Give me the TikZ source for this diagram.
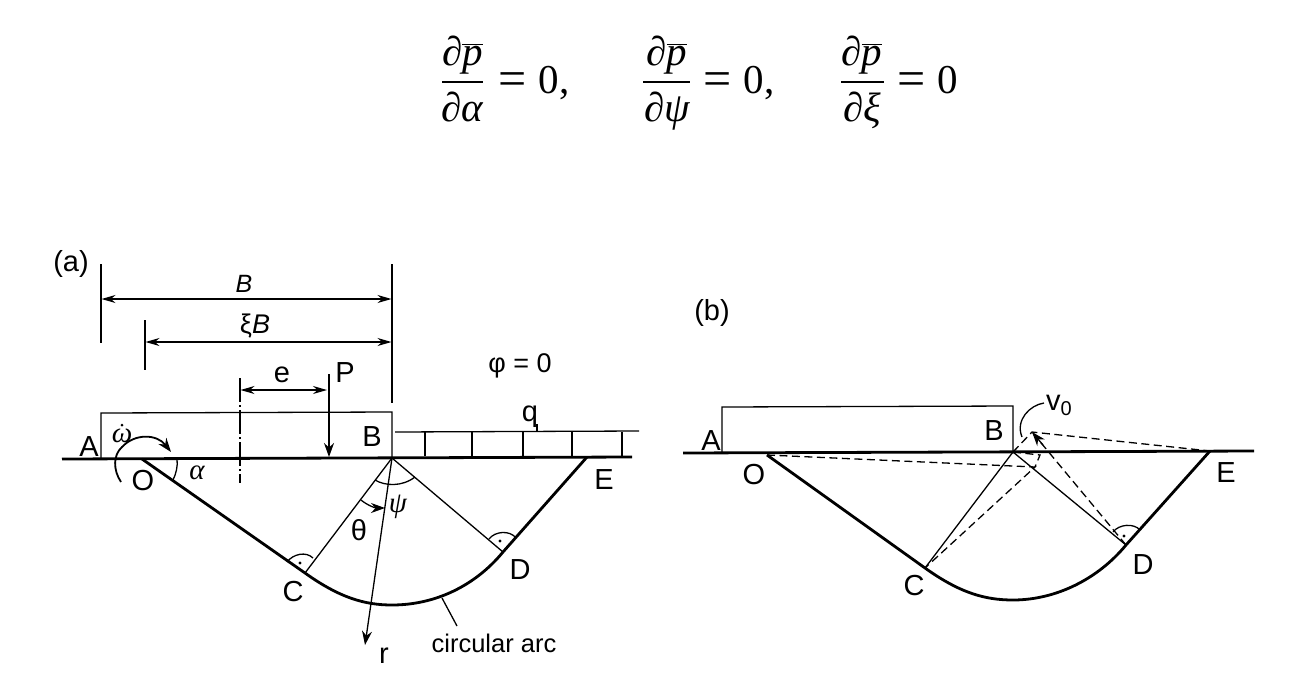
\documentclass[tikz,border=0pt]{standalone}
\usepackage{fontspec}
\setmainfont{Liberation Sans}
\newfontfamily\eqfont{Liberation Serif}
\usetikzlibrary{arrows.meta}
\tikzset{
  thin line/.style={line width=1.3pt},
  thick line/.style={line width=2.8pt},
  lab/.style={inner sep=0pt,font=\fontsize{29}{32}\selectfont},
  eqn/.style={inner sep=0pt,anchor=base,font=\fontsize{41}{44}\selectfont\eqfont\itshape},
  eqv/.style={inner sep=0pt,anchor=base west,font=\fontsize{41}{44}\selectfont\eqfont},
  serif/.style={lab,font=\fontsize{29}{32}\selectfont\eqfont\itshape},
  arr/.style={-{Stealth[length=14pt,width=10pt]}},
  dim/.style={{Stealth[length=14pt,width=8pt]}-{Stealth[length=14pt,width=8pt]},thin line},
  dsh/.style={line width=1.3pt,dash pattern=on 8pt off 4.5pt},
  barline/.style={line width=1.5pt},
}
\newcommand{\ptop}{∂$\overline{\hbox{\eqfont\itshape p}}$}
\newcommand{\eqsign}{{\fontsize{50}{50}\selectfont\raisebox{-2.5pt}{=}}}
\begin{document}
\begin{tikzpicture}[x=1pt,y=-1pt]
\useasboundingbox (0,0) rectangle (1309,678);
% equations
\node[eqn] (n1) at (462.5,65) {\ptop};
\node[eqn] (d1) at (462.5,121) {∂α};
\draw[barline] (442,82) -- (483,82);
\node[eqv] (v1) at (498,93) {\eqsign\hspace{.3em}0,};
\node[eqn] (n2) at (667,65) {\ptop};
\node[eqn] (d2) at (667,121) {∂ψ};
\draw[barline] (643,82) -- (690,82);
\node[eqv] (v2) at (703,93) {\eqsign\hspace{.3em}0,};
\node[eqn] (n3) at (862,65) {\ptop};
\node[eqn] (d3) at (862,121) {∂ξ};
\draw[barline] (841,82) -- (884,82);
\node[eqv] (v3) at (897,93) {\eqsign\hspace{.3em}0};
% (a) geometry
\coordinate (A) at (101,459);
\coordinate (O) at (142,459);
\coordinate (B) at (392,458);
\coordinate (C) at (305,573);
\coordinate (D) at (503,552);
\coordinate (E) at (587,457);
\draw[thick line] (62,459) -- (632,457);
\draw[thin line] (A) -- (101,413) -- (392,412) -- (B);
\draw[thick line] (O) -- (C) .. controls (340,598) and (365,605) .. (392,605) .. controls (435,605) and (475,586) .. (D) -- (E);
\draw[thin line] (B) -- (C);
\draw[thin line] (B) -- (D);
\coordinate (rend) at (365,645);
\draw[thin line,arr] (B) -- (rend);
% surcharge
\draw[thin line] (395,432) -- (639,431);
\foreach \x in {425,472,523,572,622} \draw[thin line] (\x,432) -- (\x,456);
\draw[thin line] (537,431) -- (537,424);
% dimensions
\draw[thin line] (101,264) -- (101,343);
\draw[thin line] (392,264) -- (392,403);
\draw[thin line] (145,320) -- (145,370);
\draw[dim] (101.5,299) -- (391.5,299);
\draw[dim] (145.5,342) -- (391.5,342);
\draw[dim] (240.5,390) -- (327,390);
\draw[thin line,dash pattern=on 24pt off 3pt on 2pt off 3pt] (240,378) -- (240,483);
\draw[line width=1.6pt,arr] (329,374) -- (329,457);
% arcs
\draw[line width=1.8pt,arr] (121,482) .. controls (113,470) and (113,455) .. (122,447) .. controls (135,433) and (157,434) .. (171,452);
\draw[thin line] (177,459) .. controls (178,466) and (176,474) .. (173,480);
\draw[thin line] (375,480) .. controls (385,486) and (402,487) .. (415,477);
\draw[thin line,arr] (361,500) .. controls (367,505) and (375,508) .. (385,508);
\draw[thin line] (287,562) .. controls (293,554) and (306,551) .. (313,558);
\fill (300,563) circle (1.6);
\draw[thin line] (489,539) .. controls (495,531) and (510,530) .. (516,538);
\fill (500,541) circle (1.6);
\draw[thin line] (442,598) -- (457,626);
% (a) labels
\node[lab] (la) at (71,264) {(a)};
\node[lab] (lA) at (89,447) {A};
\node[lab] (lO) at (143,481) {O};
\node[lab] (lB) at (372,437) {B};
\node[lab] (lE) at (604,480) {E};
\node[lab] (lC) at (293,592) {C};
\node[lab] (lD) at (520,570) {D};
\node[lab] (lP) at (345,373) {P};
\node[lab] (le) at (282,375) {e};
\node[lab] (lq) at (530,417) {q};
\node[lab] (lr) at (384,656) {r};
\node[lab,font=\fontsize{25}{28}\selectfont\itshape] (lBd) at (244,284) {B};
\node[lab,font=\fontsize{27}{30}\selectfont] (lxi) at (255,326) {ξ\textit{B}};
\node[serif] (lom) at (122,436) {ω};
\fill (122,425) circle (1.5);
\node[serif] (lal) at (197,473) {α};
\node[serif] (lps) at (398,507) {ψ};
\node[lab] (lth) at (359,530) {θ};
\node[lab,font=\fontsize{27}{30}\selectfont] (lphi) at (520,366) {φ = 0};
\node[lab,font=\fontsize{25.5}{28}\selectfont] (lca) at (494,643) {circular arc};
% (b) geometry
\coordinate (bA) at (722,453);
\coordinate (bO) at (767,455);
\coordinate (bB) at (1013,452);
\coordinate (bC) at (925,568);
\coordinate (bD) at (1126,545);
\coordinate (bE) at (1210,451);
\coordinate (bP) at (1035,467);
\coordinate (bQ) at (1032,432);
\draw[thick line] (683,453) -- (1254,451);
\draw[thin line] (bA) -- (722,407) -- (1013,406) -- (bB);
\draw[thick line] (bO) -- (bC) .. controls (960,593) and (985,600) .. (1013,600) .. controls (1056,600) and (1098,579) .. (bD) -- (bE);
\draw[thin line] (bB) -- (bC);
\draw[thin line] (bB) -- (bD);
\draw[dsh] (bO) -- (bP) -- (bC);
\draw[dsh] (bB) -- (bQ) -- (bE);
\draw[dsh] (bB) -- (1040,455) -- (bP);
\draw[dsh] (bD) -- (bQ);
\draw[thin line,arr] (1043,445) -- (bQ);
\draw[thin line] (1044,403) .. controls (1030,405) and (1015,420) .. (1022,437);
\draw[thin line] (1113,532) .. controls (1119,524) and (1134,523) .. (1140,530);
\fill (1124,536) circle (1.6);
% (b) labels
\node[lab] (lb) at (712,313) {(b)};
\node[lab] (bla) at (711,441) {A};
\node[lab] (blo) at (754,475) {O};
\node[lab] (blb) at (994,431) {B};
\node[lab] (ble) at (1226,473) {E};
\node[lab] (blc) at (914,586) {C};
\node[lab] (bld) at (1143,565) {D};
\node[lab] (blv) at (1059,405) {v\raisebox{-5pt}{\fontsize{20}{22}\selectfont 0}};
\end{tikzpicture}
\end{document}
